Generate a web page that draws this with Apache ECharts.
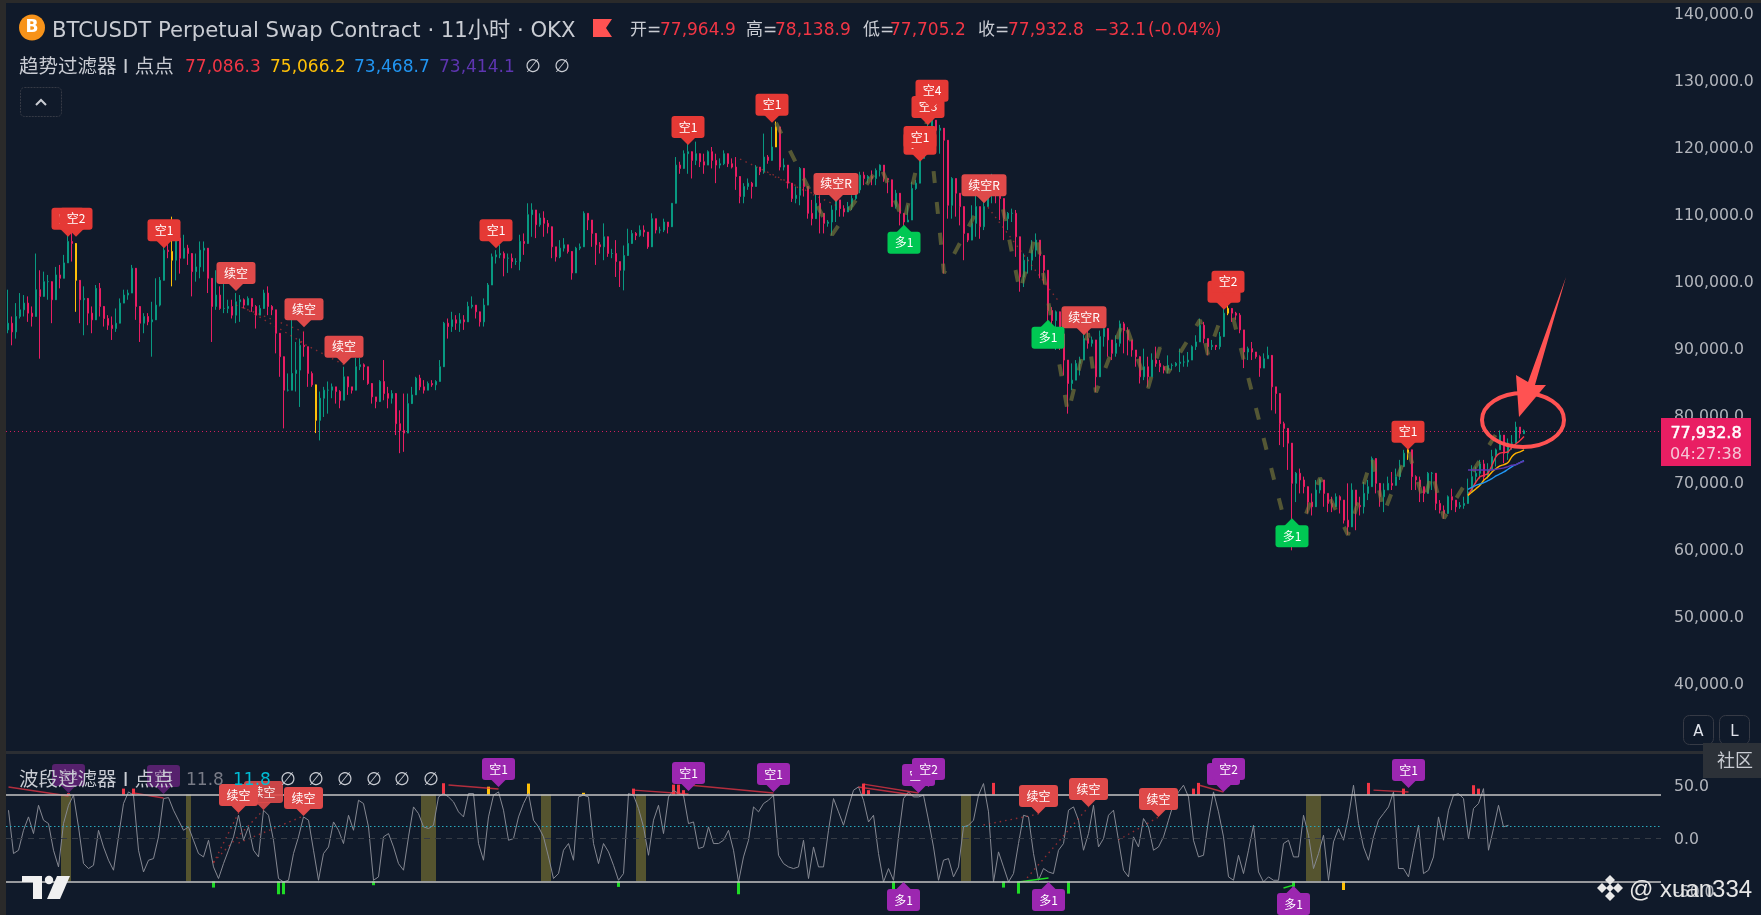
<!DOCTYPE html>
<html><head><meta charset="utf-8"><style>html,body{margin:0;padding:0;background:#101a2a;overflow:hidden}#c{width:1761px;height:915px}</style>
<script src="https://cdn.jsdelivr.net/npm/echarts@6/dist/echarts.min.js"></script></head><body><div id="c"></div>
<script>
// Prices in thousands of USDT
const closes=[94.0,92.7,95.0,96.0,97.0,95.5,95.0,99.0,98.0,100.2,
100.2,97.5,101.2,100.7,103.0,106.2,105.9,100.4,97.5,97.7,
95.5,94.5,99.2,96.5,94.7,93.7,93.2,94.0,97.0,98.2,
98.5,102.2,96.5,94.0,95.0,94.2,94.5,96.7,100.4,104.9,
104.7,103.4,106.7,103.7,105.2,104.4,101.7,102.4,104.9,105.2,
100.7,96.5,98.2,96.2,96.2,96.5,95.2,97.2,97.5,96.7,
97.7,96.5,95.2,96.2,98.5,96.5,96.0,92.5,89.0,84.0,
84.0,86.5,87.0,90.7,90.5,
86.5,84.8,79.5,82.8,84,84,84.5,83.8,82.5,86,
84.5,84,87.5,87.8,87.5,85,83,82.3,85.3,83.5,
82.8,83.5,79,78,77.6,82,83.3,85.8,84.5,84,
85,84.8,85.3,87.5,94,93.5,94.5,94,94.5,94.2,
96.5,96.7,95.7,94.2,96.7,99.7,103.9,104.2,104.4,103.7,
103.7,103.2,103.2,106.2,105.9,110.2,110.9,108.7,109.7,108.9,
108.4,105.4,103.9,105.2,105.7,104.7,101.5,105.2,105.4,110.4,
109.4,107.4,105.7,
105.4,106.9,104.4,104.4,103.2,101.9,104.1,105.9,107.4,107.1,
107.9,107.6,105.4,109.6,107.9,107.9,109.1,108.4,111.9,117.6,
117.1,119.3,119.6,118.3,119.3,118.1,117.6,119.6,118.3,117.6,
117.8,119.3,117.8,117.3,115.9,112.9,114.4,114.9,114.4,117.3,
116.6,118.8,118.3,120.3,123.3,117.3,117.6,114.9,112.6,113.1,
117.1,114.4,110.4,109.6,111.9,110.4,108.9,109.1,110.9,112.4,
111.1,110.6,111.4,112.6,113.9,116.1,115.6,115.9,115.6,116.8,
117.6,115.6,115.4,111.4,113.4,
110.4,109.1,109.4,114.1,114.9,118.6,120.6,123.3,124.3,122.8,
123.1,121.3,111.6,115.6,113.4,111.4,107.4,106.4,108.9,111.4,
108.4,111.4,113.9,115.6,114.4,112.6,109.6,110.4,110.4,106.9,
100.9,103.4,103.4,104.9,106.4,104.1,101.9,95.9,94.4,95.7,
92.4,88.5,85,85.5,88,88.5,91.7,91,91.5,86,
92,93.2,91.5,89.5,91,93.9,92.9,91.5,90,89,
86,87.5,86,88.5,88,87.5,87,87.7,87.7,88,
88.2,88.2,88.5,90.5,91.2,
93.7,91.7,90.5,90.7,90.5,92,95.5,96.2,95.5,95.2,
93,89.7,90.2,89.7,89,87.3,88.7,89.2,84.5,83.5,
79,78.3,76.1,70.1,71.6,70.6,69.6,67.3,66.6,69.1,
70.6,68.6,67.1,66.6,68.1,67.6,64.6,63.6,69.1,66.8,
66.6,68.6,69.6,73.8,70.1,68.1,69.1,70.1,69.8,71.1,
72.6,74.6,75.1,71.1,70.6,69.6,68.6,71.6,71.6,67.1,
66.1,65.6,68.1,67.6,66.6,66.8,67.1,68.8,71.1,71.6,
73,71.1,72.1,74.1,75.1,77.3,74.6,76.1,76.1,78.5,
77.5,77.9328];
const highs=[99,95,97,98.5,98.2,98,96.5,104.4,101.9,101.7,
101.2,99.5,102.4,102.7,104.2,107.4,108.2,102.7,98.2,99.5,
96.5,96.5,99.7,100,95.5,95.2,95,96.2,97.7,99,
99,102.7,97.2,95.2,95.5,95.5,97.2,100.7,100.9,105.9,
106.4,109.9,107.4,106.9,107.2,105.7,102.9,104.4,106.2,106.2,
101.7,100,101.9,99.5,100,97.5,97.5,98.5,98.2,97.7,
98,97.7,96.7,96.7,99,99.5,96.7,96,89.5,87,
86.5,95,91.2,91.7,92.7,
90.5,86.8,84,83.8,84.5,85.3,85,84.5,84,87.5,
84.8,84.5,88.8,88.8,88,87.5,84.5,83,85.5,88.5,
84.5,84,83,81,83.5,83.5,84.5,86,86.3,85.5,
85.3,85.5,85.5,88.5,94.2,94.7,95.7,95.2,95.5,95.2,
97.2,98,96.7,95.2,97.7,100,104.4,104.9,105.7,104.7,
104.4,104.4,103.7,107.2,107.4,111.9,111.9,109.4,110.4,110.7,
109.4,106.4,105.4,106.4,106.7,105.7,102.4,105.4,105.9,110.7,
110.4,108.7,106.2,
106.1,108.9,105.4,105.1,106.4,103.2,105.6,108.1,107.9,107.6,
108.6,108.6,107.4,110.4,109.6,108.4,109.6,109.1,111.9,118.8,
118.1,119.8,123.1,119.3,121.1,118.3,119.3,119.8,120.3,119.3,
118.6,119.8,119.1,118.6,118.8,115.6,114.9,115.6,115.1,117.6,
117.3,122.3,119.1,123.3,124.1,121.1,118.6,116.8,114.4,114.4,
117.3,116.8,113.9,112.4,113.4,113.1,109.6,109.4,111.6,112.9,
112.4,111.6,112.1,113.1,114.1,116.6,116.6,116.1,116.8,117.1,
117.7,116.8,115.6,113.1,113.9,
111.6,110.4,111.6,115.1,115.4,120.8,123.3,125.8,126.1,124.1,
123.6,122.3,115.4,115.8,115.6,113.4,109.1,107.4,111.6,113.9,
111.4,112.9,114.4,116.3,115.6,113.4,111.4,110.6,111.1,110.9,
105.4,104.4,103.9,106.4,107.4,105.4,103.9,97.7,96.4,95.9,
93.7,91,86,88,88.5,89,92.4,92.9,92,88,
92.9,93.9,92.4,90.5,92.2,94.4,94.2,93.4,90.5,90,
88.5,90.2,89,89.5,90.5,88.5,87.7,89.2,88,88.2,
90.2,89.2,89.7,90.7,92.2,
94.7,94.2,91.7,91.5,90.7,92.7,97.7,97,96,95.7,
95.5,93,90.5,91.2,89.7,89.2,89.5,90.5,88,84.5,
81,79.3,77,73.1,71.8,72.3,71.1,69.1,68.6,70.6,
70.8,69.3,68.6,68.1,68.6,68.3,66.6,70.1,70.1,69.1,
68.1,70.3,70.6,74.1,71.8,69.3,70.1,71.1,71.8,72.3,
73.6,75.1,76.1,74.1,71.3,71.1,69.6,71.8,71.8,70.6,
67.6,66.8,68.3,69.3,67.6,67.3,68.1,70.8,72.8,72.6,
73.6,73.6,73.1,75.1,75.3,78,74.8,76.8,77.3,79.3,
78.5,78.1389];
const lows=[92.5,90.7,91.7,94.7,95,94.2,93.5,95,88.7,98.2,
97.5,94,99.2,99.2,100.7,104.2,103.2,95.7,94,92.2,
93.7,92.5,96,95,93.5,93,91.5,92.7,94.5,97.2,
97.5,98.5,94.5,91.2,92.5,93.7,89,95,96.5,102.2,
103.7,99.5,100.4,101.4,103.9,102.7,98,100.2,100.7,101.7,
98.5,91.2,96,96,95.5,95.5,94.7,94,94.2,96.2,
96.7,95.7,93.2,95.2,96.5,95.2,95.2,89.5,86,78.3,
83.8,84.5,83.8,81.5,89,
84.5,84.5,77.6,76.5,80,80.5,82.8,82,81.3,83.5,
83.3,83.5,85.5,87,85.5,84.8,82,81.3,82.5,82.5,
81.3,82,77.3,74.6,74.8,79,83,83.5,84,83.5,
84,84.5,84,85.3,92.5,91.7,92.7,93,92.7,93,
94.5,96.2,94.7,93.5,93.5,97,102.2,102.9,103.7,101,
101.5,102.2,102.7,101.9,104.2,108.9,106.9,106.7,108.4,106.9,
107.4,103.7,103.2,103.7,104.7,104.4,100.5,102.2,104.9,106.7,
107.9,105.4,102.7,
104.4,103.4,103.9,103.7,100.9,99.4,98.9,105.6,106.9,106.4,
106.9,106.9,105.1,108.4,107.4,107.4,107.6,107.4,110.4,115.4,
116.3,117.6,116.3,115.6,117.6,117.3,116.3,117.6,117.1,114.9,
117.1,117.6,117.3,117.1,113.9,111.9,111.9,113.9,112.6,114.4,
116.1,116.3,117.8,118.8,120.3,116.8,116.8,114.1,112.1,111.9,
111.6,112.9,109.6,108.6,110.4,107.4,107.4,108.4,107.1,109.1,
109.9,109.9,110.6,110.9,112.4,113.4,114.6,114.9,114.6,114.6,
115.9,115.1,113.4,111.4,111.1,
108.6,108.4,109.1,110.9,113.9,116.3,118.6,121.6,122.6,121.1,
119.3,101.4,109.6,109.6,109.9,108.6,103.4,106.1,107.4,106.9,
106.6,107.9,111.4,111.9,111.9,109.4,106.4,107.9,109.1,103.9,
98.7,99.4,101.4,101.9,103.9,100.7,99.9,93.9,92.9,90,
90,86.2,80.5,84,85.5,86.2,90.5,90.2,90.5,83.7,
87.5,90.5,89,88.5,89,90.5,89.5,89.2,89,87.5,
85,85.5,84.5,86,87.5,86.7,86.5,86.5,87,87.5,
86.7,87.5,87.5,88.5,90,
91.7,91,89.2,90,90,90.1,94,95.2,94.2,94.5,
92.5,87.3,88.5,88.5,88.7,86,87.3,88.7,81,80.5,
75.8,75.5,72.1,60.1,67.3,68.6,68.6,65.6,65.3,67.6,
68.6,66.6,65.8,65.8,66.6,65.6,64.1,62.4,65.6,63.1,
65.3,65.6,67.6,69.6,68.6,66.6,65.8,69.1,69.1,70.6,
70.6,73.1,73.6,69.1,69.1,67.3,67.3,69.6,69.1,66.1,
65.6,64.8,66.1,66.1,65.8,66.3,66.3,67.8,69.3,70.1,
70.8,70.6,70.8,72.1,72.6,75.1,73.1,73.6,75.1,76.1,
76.8,77.7052];
const firstOpen=[93.0];
const lastPrice=[77932.8];
const highlightBars=[17,41,77,192,305,350];
const yTicks=[140000,130000,120000,110000,100000,90000,80000,70000,60000,50000,40000];
// moving lines at the right end
const maStart=[365];
const maRed=[68.3,69.3,70.3,71.1,71.3,71.6,72.8,74.1,74.6,74.7,74.8,75.5,76.0,76.5,77.1];
const maYellow=[68.3,68.8,69.3,69.8,70.6,71.1,71.8,72.3,72.7,72.9,73.2,74.1,74.6,74.8,75.1];
const maBlue=[69.2,69.5,69.8,70,70.2,70.5,70.8,71.2,71.5,71.8,72.2,72.6,72.9,73.2,73.5];
const maPurple=[72.1,72.1,72.1,72.1,72.1,72.1,72.1,72.2,72.3,72.4,72.6,72.8,72.9,73.2,73.4];
// zigzag pivots: candle index, price
const zigIdx=[192,206,218,224,230,234,247,253,257,265,270,272,279,285,288,290,298,300,305,321,328,335,341,344,350,354,356,359,373];
const zigPrice=[123.9,107.2,117.6,109.1,124.8,101.5,116.1,98.7,107.5,80.6,92.5,83.7,94.5,84.3,90.4,86.6,94.5,89.3,97.8,60.1,70.9,62.4,74,65.7,75.1,67.3,71.8,64.9,78.4];
// dotted link segments on price pane: idx,price,idx,price
const priceLinks=[[57,96.7,74,92.7],[59,96.3,74,91],[73,91.2,84,87.8],[183,118.5,201,113.4],[189,116.6,207,111.6],[245,111.3,263,97]];
// price pane signals
const sigText=['空1','空2','空1','续空','续空','续空','空1','空1','空1','续空R','多1','空1','空1','空3','空4','续空R','续空R','多1','–','空2','空1','多1'];
const sigIdx=[15,17,39,57,74,84,122,170,191,207,224,228,228,230,231,244,269,260,304,305,350,321];
const sigPrice=[106.9,106.9,105.2,98.8,93.4,87.8,105.2,120.6,123.9,112.1,108.7,118.1,119.1,123.6,126,111.9,92.2,94.5,96,97.5,75.1,64.9];
// oscillator values
const osc=[31.9,-18,-14.2,8.8,24.2,5,37.6,20.4,16.5,-14.2,
-33.4,16.5,37.6,49.2,12.7,-29.6,-35.3,-31.5,8.8,-10.4,
-25.7,-37.2,1.2,39.6,53,49.2,-14.2,-39.2,-25.7,-23.8,
1.2,45.3,46.5,31.9,20.4,8.8,12.7,-2.7,-18,-21.9,
-2.7,-33.4,-46.8,-29.6,-14.2,1.2,26.1,-2.7,12.7,-14.2,
-21.9,31.9,26.1,-2.7,-46.8,-50.7,-48.8,-18,1.2,24.2,
20.4,-14.2,-48.8,-18,-10.4,18.4,8.8,-6.5,26.1,8.8,
43.4,39.6,12.7,-48.8,-44.9,1.2,5,-10.4,-29.6,-37.2,
1.2,35.7,28,12.7,10.8,14.6,47.2,51.1,47.2,41.5,
30,24.2,51.1,51.1,-6.5,-25.7,24.2,49.2,53,31.9,
-2.7,-0.8,24.2,39.6,51.1,20.4,12.7,1.2,-21.9,-46.8,
-41.1,-14.2,-6.5,-25.7,47.2,49.2,47.2,-6.5,-29.6,-6.5,
-16.1,-31.5,-48.8,-41.1,51.1,49.2,33.8,12.7,-20,20.4,
37.6,5,47.2,54.9,51.1,49.2,16.5,18.4,-12.3,-10.4,
12.7,-6.5,-6.5,-2.7,8.8,-14.2,-50.7,-21.9,-2.7,35.7,
30,39.6,43.4,49.2,-20,-29.6,-33.4,-35.3,-33.4,-2.7,
-46.8,-10.4,-33.4,-33.4,8.8,45.3,30,14.6,35.7,54.9,
58.8,43.4,18.4,26.1,
-18,-50.7,-35.3,-48.8,1.2,45.3,53,47.2,47.2,49.2,
20.4,-10.4,-48.8,-25.7,-23.8,-44.9,-33.4,12.7,14.6,20.4,
49.2,62.6,30,-50.7,-16.1,-33.4,-50.7,-41.1,-6.5,26.1,
24.2,-18,-48.8,-35.3,-39.2,-41.1,-14.2,-6.5,31.9,35.7,
20.4,-14.2,5,37.6,-10.4,-0.8,26.1,31.9,-2.7,-37.2,
-44.9,1.2,-10.4,22.3,12.7,-14.2,-10.4,1.2,20.4,39.6,
53,60.7,47.2,-2.7,-21.9,-20,20.4,53,30,1.2,
-44.9,-48.8,-20,-41.1,-14.2,14.6,-39.2,-50.7,-44.9,-48.8,
-48.8,-6.5,-2.7,-21.9,-21.9,26.1,3.1,-35.3,-18,3.1,
-48.8,-4.6,10.8,-2.7,24.2,60.7,16.5,-10.4,-25.7,1.2,
20.4,28,35.7,53,-35.3,-35.3,-44.9,-14.2,14.6,-41.1,
-37.2,-21.9,24.2,-2.7,31.9,49.2,51.1,45.3,-0.8,33.8,
39.6,56.8,-14.2,10.8,37.6,12.7,14.6];
const oscSlots=[331];
const oscLevels=[50,-50];
const oscZero=[0];
const oscCurrent=[14];
const oscTicks=[50,0,-50];
// beyond-level blocks: slot, value
const redBlocks=[[12,51.5],[23,56.8],[25,56.8],[87,63],[125,56.8],[133,61.4],[134,61.4],[135,55],[171,62.6],[172,55],[197,63.4],[237,56.8],[238,63.4],[272,63.4],[279,56.8],[293,60.7],[294,56.8]];
const greenBlocks=[[41,-57.2],[54,-64.9],[55,-64.9],[73,-54.5],[122,-56.4],[146,-64.9],[177,-59.5],[199,-57.2],[202,-64.2],[212,-64.2],[257,-56.4]];
const yellowBlocks=[[96,59],[104,62.6],[115,52],[267,-60]];
// olive zones: first slot, last slot
const oliveZones=[[11,12],[36,36],[83,85],[107,108],[126,127],[191,192],[260,262]];
const redLinks=[[0,58.6,12,48.3],[25,51.7,31,46],[88,61,98,56.3],[125,55,136,50.6],[136,61,153,51.7],[171,62,182,51.7],[170,58.6,181,49.4],[238,61,243,52.9],[273,55,280,52.9]];
const greenLinks=[[202,-50.8,208,-46.2],[255,-57.7,257,-54.3]];
const oscLinks=[[41,-28.9,46,28.7],[41,-27.8,51,32.1],[46,-5.9,59,25.2],[195,14.9,206,27.5],[203,-50.8,216,35.6],[222,-2.4,230,24.1]];
const oscSigText=['空2','空1','空1','空1','空1','续空','续空','续空','空1','空2','续空','续空','续空','空1','空2','空1','多1','多1','多1'];
const oscSigIdx=[12,31,98,136,153,51,46,59,182,184,206,216,230,243,244,280,179,208,257];
const oscSigVal=[51.7,50.6,58.6,54,52.9,32.1,28.7,25.2,51.7,58.6,27.5,35.6,24.1,52.9,58.6,57.5,-50.8,-50.8,-55.4];
const oscSigDim=[1,1,0,0,0,1,0,0,0,0,0,0,0,0,0,0,0,0,0];

const FONT='"DejaVu Sans","Noto Sans CJK SC"';
const BG='#101a2a', GREEN='#089981', PINK='#e91e63';
const SLOTS=414;
const candles=closes.map((c,i)=>{
  const o=i===0?firstOpen[0]:closes[i-1];
  const v=[o*1000,c*1000,lows[i]*1000,highs[i]*1000];
  if(highlightBars.includes(i)) return {value:v,itemStyle:{color:'#ffc107',color0:'#ffc107',borderColor:'#ffc107',borderColor0:'#ffc107'}};
  return v;
});
const seg=(a,xi,yi,color,width,type,mul,z)=>({type:'line',xAxisIndex:xi,yAxisIndex:yi,data:[[a[0],a[1]*mul],[a[2],a[3]*mul]],showSymbol:false,silent:true,z:z||4,animation:false,clip:false,lineStyle:{color,width,type}});

function callout(params,api,texts,isPurple,dim){
  const i=params.dataIndex, t=texts[i];
  const p=api.coord([api.value(0),api.value(1)]);
  const up=t[0]==='多';
  const w=t.length===3?45:(t.startsWith('续')?39:33), h=22, tx=p[0], ty=p[1];
  let color;
  if(isPurple) color=t.startsWith('续')?'#df4a4a':'#9c27b0';
  else color=t.startsWith('续')?'#df4a4a':(up?'#00c853':'#e53935');
  let op=dim&&dim[i]?(t.startsWith('续')?0.9:0.5):1;
  const top=up?ty+7:ty-7-h;
  const tri=up?[[tx-8,ty+8],[tx,ty],[tx+8,ty+8]]:[[tx-8,ty-8],[tx,ty],[tx+8,ty-8]];
  return {type:'group',children:[
    {type:'polygon',shape:{points:tri},style:{fill:color,opacity:op}},
    {type:'rect',shape:{x:tx-w/2,y:top,width:w,height:h,r:3},style:{fill:color,opacity:op}},
    {type:'text',style:{x:tx,y:top+h/2,text:t,fill:'#ffffff',opacity:op,align:'center',verticalAlign:'middle',font:'12px "Noto Sans CJK SC","DejaVu Sans"'}}
  ]};
}
const blockSeries=(rows,color)=>({type:'custom',xAxisIndex:1,yAxisIndex:1,z:3,silent:true,data:rows,encode:{x:0,y:1},
  renderItem:(p,api)=>{const v=api.value(1),a=api.coord([api.value(0),v]),b=api.coord([api.value(0),v>0?oscLevels[0]:oscLevels[1]]);
    const w=3;return {type:'rect',shape:{x:a[0]-w/2,y:Math.min(a[1],b[1]),width:w,height:Math.abs(a[1]-b[1])},style:{fill:color}};}});

const T=(x,y,text,fill,size,extra)=>({type:'text',x,y:y+2.5,z:100,silent:true,style:Object.assign({text,fill,font:(extra&&extra.weight?extra.weight+' ':'')+size+'px '+((extra&&extra.family)||FONT),verticalAlign:'middle',align:(extra&&extra.align)||'left'},extra&&extra.style||{})});
const R=(x,y,w,h,fill,r,stroke,dash)=>({type:'rect',z:100,silent:true,shape:{x,y,width:w,height:h,r:r||0},style:{fill,stroke:stroke||null,lineDash:dash||null}});
const P=(pts,fill)=>({type:'polygon',z:101,silent:true,shape:{points:pts},style:{fill}});
const LBL='#c9ccd3', RED='#f23645';
const elements=[
  R(0,0,6,915,'#2a2a2a'),R(0,0,1761,3,'#2a2a2a'),R(6,751,1755,3,'#2b2e33'),
  {type:'circle',z:100,silent:true,shape:{cx:32,cy:27.5,r:13},style:{fill:'#f7931a'}},
  T(32,25,'B','#fff',17,{weight:'bold',align:'center'}),
  T(52,28.5,'BTCUSDT Perpetual Swap Contract · 11小时 · OKX',LBL,21.2),
  P([[593,19],[612,19],[606,28],[612,37],[593,37]],'#ff5252'),
  T(630,28,'开=',LBL,17),T(660,28,'77,964.9',RED,17),
  T(746,28,'高=',LBL,17),T(775,28,'78,138.9',RED,17),
  T(863,28,'低=',LBL,17),T(890,28,'77,705.2',RED,17),
  T(978,28,'收=',LBL,17),T(1008,28,'77,932.8',RED,17),
  T(1094,28,'−32.1',RED,17),T(1148,28,'(-0.04%)',RED,17),
  T(19,65,'趋势过滤器 I 点点',LBL,19.5),
  T(185,65,'77,086.3',RED,17),T(270,65,'75,066.2','#ffc107',17),T(354,65,'73,468.7','#2196f3',17),T(439,65,'73,414.1','#5e35b1',17),
  T(533,65,'∅',LBL,18,{align:'center'}),T(562,65,'∅',LBL,18,{align:'center'}),
  R(20.5,87.5,41,29,null,4,'#363a45',[2,1]),
  {type:'polyline',z:100,silent:true,shape:{points:[[36,105],[41,100],[46,105]]},style:{stroke:LBL,fill:null,lineWidth:2}},
  T(19,778,'波段过滤器 I 点点',LBL,19.5),
  T(186,778,'11.8','#787b86',17),T(233,778,'11.8','#00bcd4',17),
  ...[288,316,345,374,402,431].map(x=>T(x,778,'∅',LBL,18,{align:'center'})),
  R(1683.5,715.5,30,29,BG,6,'#363a45'),T(1698.5,730,'A','#e0e3eb',15,{align:'center'}),
  R(1719.5,715.5,30,29,BG,6,'#363a45'),T(1734.5,730,'L','#e0e3eb',15,{align:'center'}),
  R(1703,743,58,35,'#2c3138'),T(1735,760,'社区',LBL,18,{align:'center'}),
  R(1661,418,90,48,'#e91e63'),
  T(1706,431,'77,932.8','#ffffff',16,{align:'center',style:{stroke:'#ffffff',lineWidth:.5}}),T(1706,452,'04:27:38','#f5c6d6',16,{align:'center'}),
  // trading logo
  P([[22,876],[42,876],[42,899],[33,899],[33,882],[22,882]],'#f0f0f0'),
  {type:'circle',z:101,silent:true,shape:{cx:49,cy:880,r:4.2},style:{fill:'#f0f0f0'}},
  P([[57,876],[70,876],[60,899],[47,899]],'#f0f0f0'),
  // watermark
  ...[[1610,880],[1610,896],[1602,888],[1618,888]].map(c=>P([[c[0],c[1]-5],[c[0]+5,c[1]],[c[0],c[1]+5],[c[0]-5,c[1]]],'#e8e8e8')),
  P([[1610,884],[1614,888],[1610,892],[1606,888]],'#e8e8e8'),
  T(1629,888,'@ xuan334','#e6e6e6',24,{family:'"Liberation Sans"'}),
  // hand annotation
  {type:'ellipse',z:101,silent:true,shape:{cx:1523,cy:420,rx:41,ry:27},style:{fill:null,stroke:'#ff5252',lineWidth:4}},
  P([[1566,277],[1535,385],[1546,385],[1519,417],[1516,375],[1528,382]],'#ff5252')
];

const series=[
  {type:'candlestick',xAxisIndex:0,yAxisIndex:0,data:candles,barWidth:2,large:false,progressive:0,silent:true,z:3,
   itemStyle:{color:GREEN,color0:PINK,borderColor:GREEN,borderColor0:PINK,borderWidth:1},
   markLine:{silent:true,symbol:'none',animation:false,label:{show:false},data:[{yAxis:lastPrice[0]}],lineStyle:{color:PINK,width:1,type:[1,3],opacity:.9}}},
  {type:'line',xAxisIndex:0,yAxisIndex:0,data:zigIdx.map((k,i)=>[k,zigPrice[i]*1000]),showSymbol:false,silent:true,z:4,
   lineStyle:{color:'rgba(130,128,60,.6)',width:4,type:[12,19]}},
  ...[[maRed,'#f23645'],[maYellow,'#ffb300'],[maBlue,'#2196f3'],[maPurple,'#5e35b1']].map(m=>({type:'line',xAxisIndex:0,yAxisIndex:0,smooth:.3,showSymbol:false,silent:true,z:4,data:m[0].map((v,i)=>[maStart[0]+i,v*1000]),lineStyle:{color:m[1],width:1.4}})),
  ...priceLinks.map(a=>seg(a,0,0,'rgba(229,57,53,.55)',1.4,[1.5,4.5],1000)),
  {type:'custom',xAxisIndex:0,yAxisIndex:0,z:6,silent:true,clip:false,data:sigIdx.map((k,i)=>[k,sigPrice[i]*1000]),encode:{x:0,y:1},renderItem:(p,api)=>callout(p,api,sigText,false)},
  {type:'custom',xAxisIndex:1,yAxisIndex:1,z:2,silent:true,data:oliveZones,encode:{x:[0,1]},
   renderItem:(p,api)=>{const a=api.coord([api.value(0),oscLevels[0]]),b=api.coord([api.value(1),oscLevels[1]]),s=api.size([1,0])[0];
     return {type:'rect',shape:{x:a[0]-s/2,y:a[1],width:b[0]-a[0]+s,height:b[1]-a[1]},style:{fill:'#55542f'}};}},
  blockSeries(redBlocks,'#f23645'),blockSeries(greenBlocks,'#1fdc26'),blockSeries(yellowBlocks,'#ffc107'),
  {type:'line',xAxisIndex:1,yAxisIndex:1,data:osc,showSymbol:false,silent:true,z:3,lineStyle:{color:'#858892',width:1},
   markLine:{silent:true,symbol:'none',animation:false,label:{show:false},data:[
     ...oscLevels.map(v=>({yAxis:v,lineStyle:{color:'#c4c4c4',width:1.5,type:'solid'}})),
     {yAxis:oscZero[0],lineStyle:{color:'#363c45',width:1,type:[6,5]}},
     {yAxis:oscCurrent[0],lineStyle:{color:'#27a9bd',width:1,type:[1.5,2.5]}}]}},
  ...redLinks.map(a=>seg(a,1,1,'rgba(242,54,69,.72)',1.4,'solid',1)),
  ...greenLinks.map(a=>seg(a,1,1,'#1fdc26',1.4,'solid',1)),
  ...oscLinks.map(a=>seg(a,1,1,'rgba(229,57,53,.6)',1.4,[1.5,4],1)),
  {type:'custom',xAxisIndex:1,yAxisIndex:1,z:6,silent:true,clip:false,data:oscSigIdx.map((k,i)=>[k,oscSigVal[i]]),encode:{x:0,y:1},renderItem:(p,api)=>callout(p,api,oscSigText,true,oscSigDim)}
];
const fmt=v=>v.toLocaleString('en-US',{minimumFractionDigits:1,maximumFractionDigits:1});
const chart=echarts.init(document.getElementById('c'),null,{renderer:'canvas'});
chart.setOption({
  animation:false,backgroundColor:BG,
  grid:[{left:6,width:1656,top:3,height:749},{left:6,width:1655,top:751.1,height:163.9}],
  xAxis:[
    {type:'category',gridIndex:0,data:Array.from({length:SLOTS},(_,i)=>i),show:false},
    {type:'category',gridIndex:1,data:Array.from({length:oscSlots[0]},(_,i)=>i),show:false}],
  yAxis:[
    {type:'value',gridIndex:0,position:'right',min:30000,max:141791,interval:10000,scale:true,
     axisLine:{show:false},axisTick:{show:false},splitLine:{show:false},
     axisLabel:{margin:12,padding:[5,0,0,0],color:'#b2b5bc',fontFamily:FONT,fontSize:15.7,showMaxLabel:false,showMinLabel:false,align:'left',formatter:v=>yTicks.includes(v)?fmt(v):''}},
    {type:'value',gridIndex:1,position:'right',min:-88.8,max:100,
     axisLine:{show:false},axisTick:{show:false},splitLine:{show:false},
     axisLabel:{margin:13,padding:[4,0,0,0],color:'#b2b5bc',fontFamily:FONT,fontSize:15.7,align:'left',customValues:oscTicks,
       formatter:v=>v===50?'{up|50.0}':(v===-50?'{dn|-50.0}':v.toFixed(1)),
       rich:{up:{padding:[0,0,20,0],color:'#b2b5bc',fontFamily:FONT,fontSize:15.7},dn:{padding:[20,0,0,0],color:'#b2b5bc',fontFamily:FONT,fontSize:15.7}}}}],
  graphic:{elements},
  series
});
</script></body></html>
